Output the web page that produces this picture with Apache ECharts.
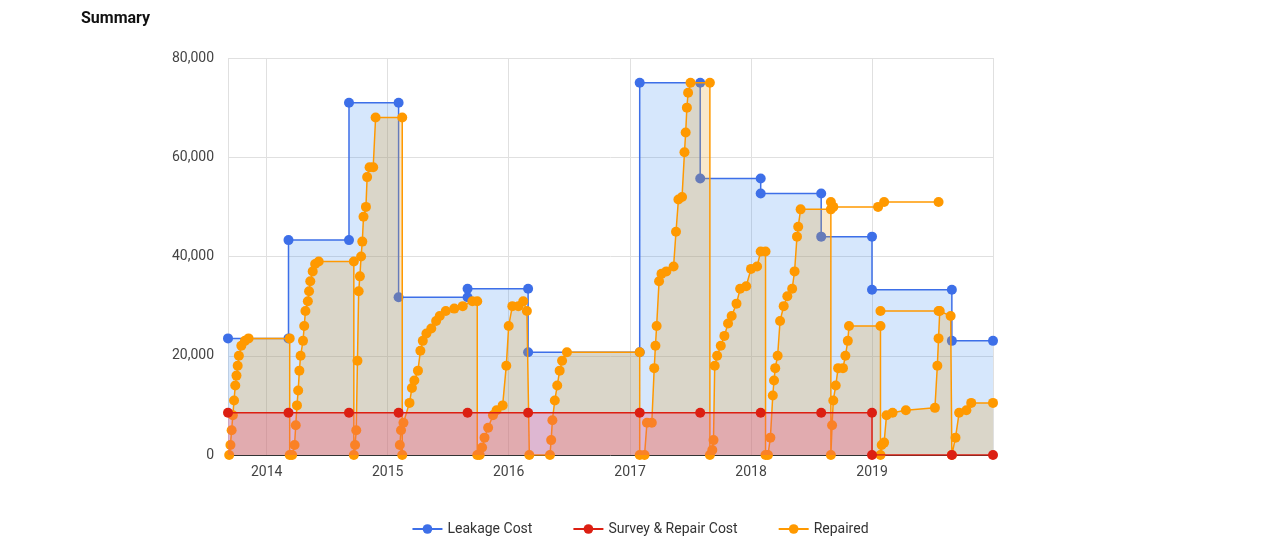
<!DOCTYPE html>
<html><head><meta charset="utf-8">
<script src="https://cdn.jsdelivr.net/npm/echarts@6/dist/echarts.min.js"></script>
<style>html,body{margin:0;padding:0;background:#fff}#c{width:1280px;height:557px}</style>
</head><body><div id="c"></div>
<script>
// [decimal year, value]
const leakage = [[2013.68,23500],[2014.18,23500],[2014.18,43300],[2014.68,43300],[2014.68,71000],[2015.09,71000],[2015.09,31800],[2015.66,31800],[2015.66,33500],[2016.16,33500],[2016.16,20700],[2017.08,20700],[2017.08,75000],[2017.58,75000],[2017.58,55700],[2018.08,55700],[2018.08,52700],[2018.58,52700],[2018.58,44000],[2019.0,44000],[2019.0,33300],[2019.66,33300],[2019.66,23000],[2020.0,23000]];
const survey = [[2013.68,8500],[2014.18,8500],[2014.68,8500],[2015.09,8500],[2015.66,8500],[2016.16,8500],[2017.08,8500],[2017.58,8500],[2018.08,8500],[2018.58,8500],[2019.0,8500],[2019.0,0],[2019.66,0],[2020.0,0]];
const repaired = [
[2013.69,0],[2013.70,2000],[2013.71,5000],[2013.72,8000],[2013.73,11000],[2013.74,14000],[2013.75,16000],[2013.76,18000],[2013.77,20000],[2013.79,22000],[2013.82,23000],[2013.85,23500],[2014.19,23500],[2014.19,0],
[2014.21,0],[2014.23,2000],[2014.24,6000],[2014.25,10000],[2014.26,13000],[2014.27,17000],[2014.28,20000],[2014.30,23000],[2014.31,26000],[2014.32,29000],[2014.34,31000],[2014.35,33000],[2014.36,35000],[2014.38,37000],[2014.40,38500],[2014.43,39000],[2014.72,39000],[2014.72,0],
[2014.73,2000],[2014.74,5000],[2014.75,19000],[2014.76,33000],[2014.77,36000],[2014.78,40000],[2014.79,43000],[2014.80,48000],[2014.82,50000],[2014.83,56000],[2014.85,58000],[2014.88,58000],[2014.90,68000],[2015.12,68000],[2015.12,0],
[2015.10,2000],[2015.11,5000],[2015.13,6500],[2015.18,10500],[2015.20,13500],[2015.22,15000],[2015.25,17000],[2015.27,21000],[2015.29,23000],[2015.32,24500],[2015.36,25500],[2015.40,27000],[2015.43,28000],[2015.48,29000],[2015.55,29500],[2015.62,30000],[2015.70,31000],[2015.74,31000],[2015.74,0],
[2015.76,0],[2015.78,1500],[2015.80,3500],[2015.83,5500],[2015.87,8000],[2015.90,9000],[2015.95,10000],[2015.98,18000],[2016.00,26000],[2016.03,30000],[2016.08,30000],[2016.12,31000],[2016.15,29000],[2016.17,0],[2016.34,0],
[2016.35,3000],[2016.36,7000],[2016.38,11000],[2016.40,14000],[2016.42,17000],[2016.44,19000],[2016.48,20700],[2017.08,20700],[2017.08,0],
[2017.12,0],[2017.14,6500],[2017.18,6500],[2017.20,17500],[2017.21,22000],[2017.22,26000],[2017.24,35000],[2017.26,36500],[2017.30,37000],[2017.36,38000],[2017.38,45000],[2017.40,51500],[2017.43,52000],[2017.45,61000],[2017.46,65000],[2017.47,70000],[2017.48,73000],[2017.50,75000],[2017.66,75000],[2017.66,0],
[2017.68,1000],[2017.69,3000],[2017.70,18000],[2017.72,20000],[2017.75,22000],[2017.78,24000],[2017.81,26500],[2017.84,28000],[2017.88,30500],[2017.91,33500],[2017.96,34000],[2018.00,37500],[2018.05,38000],[2018.08,41000],[2018.12,41000],[2018.12,0],
[2018.14,0],[2018.16,3500],[2018.18,12000],[2018.19,15000],[2018.20,17500],[2018.22,20000],[2018.24,27000],[2018.27,30000],[2018.30,32000],[2018.34,33500],[2018.36,37000],[2018.38,44000],[2018.39,46000],[2018.41,49500],[2018.66,49500],[2018.66,0],
[2018.67,6000],[2018.68,11000],[2018.70,14000],[2018.72,17500],[2018.76,17500],[2018.78,20000],[2018.80,23000],[2018.81,26000],[2019.07,26000],[2019.07,0],
[2019.08,2000],[2019.10,2500],[2019.12,8000],[2019.17,8500],[2019.28,9000],[2019.52,9500],[2019.54,18000],[2019.55,23500],[2019.56,29000],[2019.65,28000],[2019.66,0],[2019.69,3500],[2019.72,8500],[2019.78,9000],[2019.82,10500],[2020.0,10500]
];
const repairedHigh = [[2018.66,51000],[2018.68,50000],[2019.05,50000],[2019.1,51000],[2019.55,51000]];
const repairedMid = [[2019.07,29000],[2019.55,29000]];

const toT = y => { const yr = Math.floor(y); const s = Date.UTC(yr,0,1), e = Date.UTC(yr+1,0,1); return s + (y-yr)*(e-s); };
const conv = a => a.map(p => [toT(p[0]), p[1]]);

const chart = echarts.init(document.getElementById('c'));
const ORANGE = '#ff9900', BLUE = '#3d6fe8', RED = '#dc1f12';
const mk = (name, data, color, fill, z) => ({
  name, type:'line', data: conv(data), symbol:'circle', symbolSize:10, z,
  lineStyle:{color, width:1.5}, itemStyle:{color},
  areaStyle: fill ? {color: fill} : undefined
});
chart.setOption({
  animation:false,
  title:{text:'Summary', left:76, top:6, textStyle:{fontFamily:'Roboto', fontSize:16, fontWeight:'bold', color:'#111'}},
  grid:{left:228, right:287, top:58, bottom:102},
  xAxis:{type:'time', min:toT(2013.68), max:toT(2020.0), splitNumber:7,
    axisLine:{lineStyle:{color:'#333'}}, axisTick:{show:false},
    axisLabel:{formatter:'{yyyy}', color:'#444', fontSize:14, fontFamily:'Roboto', showMinLabel:false, margin:10},
    splitLine:{show:true, lineStyle:{color:'#e0e0e0'}}},
  yAxis:{type:'value', min:0, max:80000, interval:20000,
    axisLine:{show:false}, axisTick:{show:false},
    axisLabel:{formatter:v=>v.toLocaleString('en-US'), color:'#444', fontSize:14, fontFamily:'Roboto', margin:14},
    splitLine:{lineStyle:{color:'#e0e0e0'}}},
  legend:{bottom:16, left:'center', itemGap:40, itemWidth:30, itemHeight:12,
    textStyle:{fontSize:14, fontFamily:'Roboto', color:'#333'},
    data:['Leakage Cost','Survey & Repair Cost','Repaired']},
  series:[
    mk('Leakage Cost', leakage, BLUE, 'rgba(61,140,240,0.3)', 2),
    mk('Survey & Repair Cost', survey, RED, 'rgba(240,80,120,0.45)', 4),
    mk('Repaired', repaired, ORANGE, 'rgba(230,160,40,0.35)', 3),
    Object.assign(mk('Repaired', repairedHigh, ORANGE, null, 3)),
    Object.assign(mk('Repaired', repairedMid, ORANGE, null, 3))
  ]
});
</script></body></html>
